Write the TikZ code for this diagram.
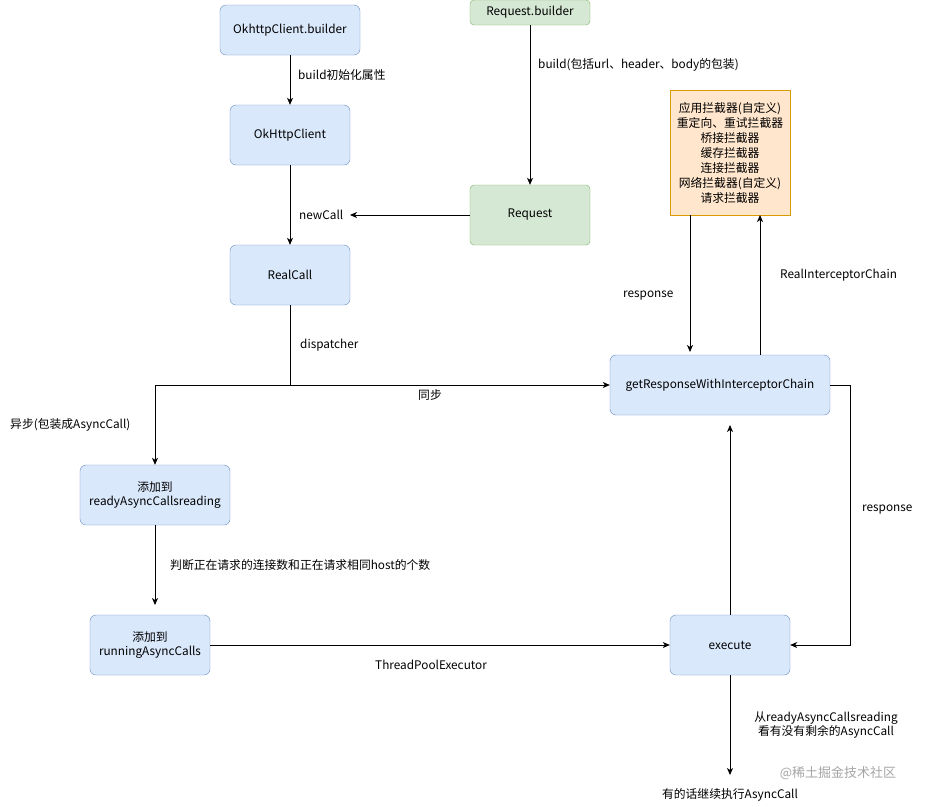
\documentclass[tikz,border=0pt]{standalone}
\usepackage{fontspec}
\setmainfont{Noto Sans CJK SC}
\usetikzlibrary{arrows.meta}
\definecolor{bfill}{HTML}{DAE8FC}\definecolor{bdraw}{HTML}{6C8EBF}
\definecolor{gfill}{HTML}{D5E8D4}\definecolor{gdraw}{HTML}{82B366}
\definecolor{ofill}{HTML}{FFE6CC}\definecolor{odraw}{HTML}{D79B00}
\begin{document}
\begin{tikzpicture}[x=1pt,y=-1pt,font=\fontsize{11.8}{14}\selectfont,
 box/.style={draw=bdraw,fill=bfill,rounded corners=6pt,align=center,inner sep=0pt},
 gbox/.style={draw=gdraw,fill=gfill,rounded corners=4pt,align=center,inner sep=0pt},
 arr/.style={-{Stealth[length=7pt,width=6pt,inset=2pt]},line width=0.8pt},
 lbl/.style={anchor=west,inner sep=0pt}]
\fill[white] (0,0) rectangle (941,806);
\useasboundingbox (0,0) rectangle (941,806);
\def\bx#1#2#3#4#5#6#7{\node[#2,minimum width=#5-#3,minimum height=#6-#4] (#1) at ({(#3+#5)/2},{(#4+#6)/2}) {#7};}
\bx{ob}{box}{220}{5}{360}{55}{OkhttpClient.builder}
\bx{oc}{box}{230}{105}{350}{165}{OkHttpClient}
\bx{rc}{box}{230}{245}{350}{305}{RealCall}
\bx{rb}{gbox}{470}{0}{590}{25}{Request.builder}
\bx{rq}{gbox}{470}{185}{590}{245}{Request}
\node[draw=odraw,fill=ofill,minimum width=120,minimum height=125,align=center,inner sep=0pt,font=\fontsize{11.8}{15}\selectfont] (ic) at (730,152.5) {应用拦截器(自定义)\\重定向、重试拦截器\\桥接拦截器\\缓存拦截器\\连接拦截器\\网络拦截器(自定义)\\请求拦截器};
\bx{gr}{box}{610}{355}{830}{415}{getResponseWithInterceptorChain}
\bx{ra}{box}{80}{465}{230}{525}{添加到\\readyAsyncCallsreading}
\bx{ru}{box}{90}{615}{210}{675}{添加到\\runningAsyncCalls}
\bx{ex}{box}{670}{615}{790}{675}{execute}
\coordinate (nc) at (350,215);
\coordinate (sp) at (290,385);
\coordinate (end) at (730,775);
\draw[arr] (ob) -- (oc);
\node[lbl] at (298,75) {build初始化属性};
\draw[arr] (oc) -- (rc);
\node[lbl] at (299,215) {newCall};
\draw[arr] (rq) -- (nc);
\draw[arr] (rb) -- (rq);
\node[lbl] at (538,65) {build(包括url、header、body的包装)};
\draw[line width=0.8pt] (rc) -- (sp);
\draw[arr] (sp) -| (ra);
\draw[arr] (sp) -- (gr);
\node[lbl] at (300,345) {dispatcher};
\node[lbl] at (418,395) {同步};
\node[lbl] at (10,425) {异步(包装成AsyncCall)};
\draw[arr] (155,525) -- (155,605);
\node[lbl] at (170,565) {判断正在请求的连接数和正在请求相同host的个数};
\draw[arr] (ru) -- (ex);
\node[lbl] at (375,665) {ThreadPoolExecutor};
\draw[arr] (ex.north) -- (730,425);
\draw[arr] (gr.east) -- (850,385) |- (ex.east);
\node[lbl] at (862,510) {response};
\draw[arr] (760,355) -- (760,215);
\node[lbl] at (780,275) {RealInterceptorChain};
\draw[arr] (690,215) -- (690,352);
\node[lbl] at (623,296) {response};
\draw[arr] (ex) -- (end);
\node[align=center,inner sep=0pt] at (826,725) {从readyAsyncCallsreading\\看有没有剩余的AsyncCall};
\node[inner sep=0pt] at (730,795) {有的话继续执行AsyncCall};
\node[inner sep=0pt,text=black!35,font=\fontsize{13}{15}\selectfont] at (838,773) {@稀土掘金技术社区};
\end{tikzpicture}
\end{document}
